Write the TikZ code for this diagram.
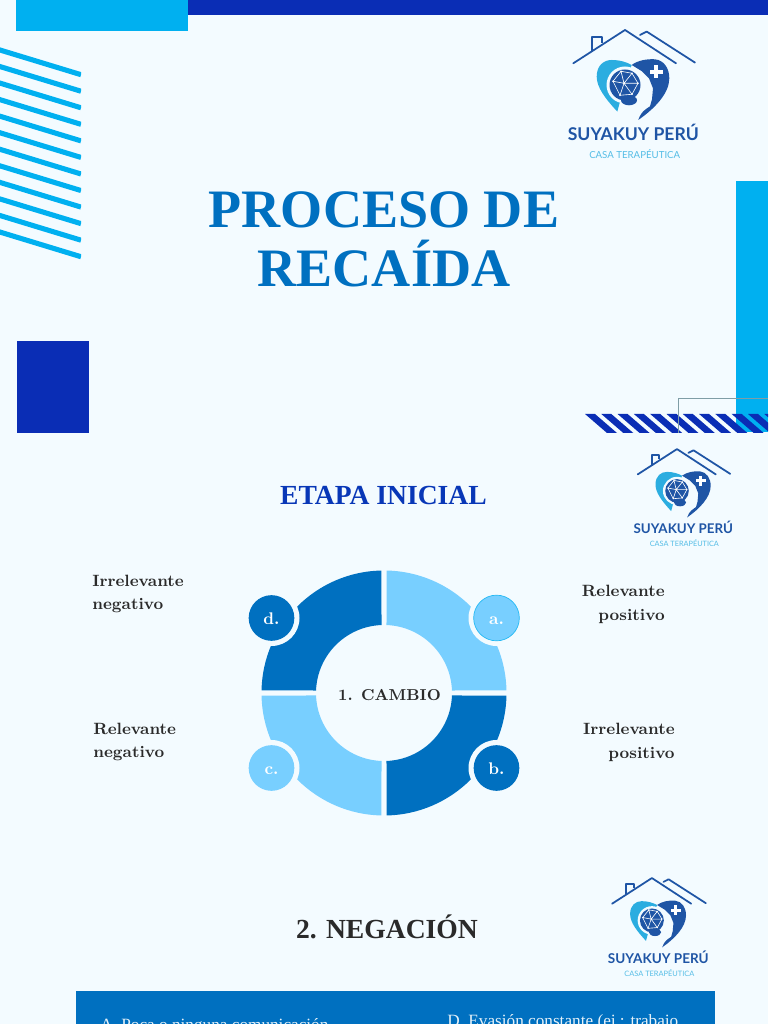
\documentclass[tikz,border=0pt]{standalone}
\usepackage{fontspec}
\usepackage{tikz}
\newfontfamily\titlefont{Liberation Serif}
\newfontfamily\logofont{Lato}
\newcommand{\heavybold}{\bfseries\addfontfeature{FakeBold=0.6}}
\definecolor{pagebg}{HTML}{F3FBFF}
\definecolor{skyblue}{HTML}{00B0F0}
\definecolor{royal}{HTML}{0A2DB5}
\definecolor{midblue}{HTML}{0070C0}
\definecolor{paleblue}{HTML}{78CFFF}
\definecolor{logoblue}{HTML}{1F55A5}
\definecolor{heartblue}{HTML}{2BADE0}
\definecolor{inktext}{HTML}{2A2A2A}
\definecolor{thinline}{HTML}{7F9DA6}
\tikzset{
  titletext/.style={font=\titlefont\bfseries\fontsize{30.8}{36}\selectfont, text=midblue, inner sep=0},
  headtext/.style={font=\titlefont\bfseries\fontsize{15.7}{18}\selectfont, inner sep=0},
  sidetext/.style={font=\fontsize{9.3}{13.6}\selectfont\heavybold, text=inktext, inner sep=0},
  badge/.style={circle, minimum size=26pt, inner sep=0, text=white, text height=7pt, text depth=0pt, font=\fontsize{9.6}{12}\selectfont\heavybold},
  bandtext/.style={font=\titlefont\fontsize{9.8}{12}\selectfont, text=white!90!midblue, inner sep=0, anchor=base west},
  logo/.pic={
    \draw[logoblue, line width=1pt, line cap=round, line join=round] (-61.7,10) -- (-10,43.3) -- (41,10);
    \draw[logoblue, line width=1pt, line cap=round, line join=round] (5,38.3) -- (11.7,41.7) -- (60,10.7);
    \draw[logoblue, line width=1pt, line join=round] (-43.3,21.7) -- (-43.3,36) -- (-33.3,36) -- (-33.3,30);
    \fill[heartblue] (-17.7,-38.3) .. controls (-30,-25) and (-38.3,-14) .. (-38.3,-3.3)
      .. controls (-38.3,8) and (-31,13.3) .. (-23.3,13.3)
      .. controls (-15,13.3) and (-8,11) .. (-3.3,8.3)
      -- (-10,-10) -- cycle;
    \fill[logoblue] (-3.3,8.3) .. controls (3,13) and (12,14.5) .. (20,14)
      .. controls (29,13) and (34.3,5) .. (34.3,-5)
      .. controls (34.3,-20) and (20,-35) .. (3.3,-46.7)
      .. controls (6,-38) and (12,-35) .. (15,-33)
      -- (17,-26) -- (18,-15) -- (14,-5) -- (7,2) -- cycle;
    \fill[pagebg] (-10,-11.7) circle (18.5);
    \fill[pagebg] (-12,-38) -- (3,-41) -- (15,-32) -- (6,-15) -- (-12,-15) -- cycle;
    \fill[logoblue] (-10,-11.7) circle (15.5);
    \fill[logoblue] (-6,-27) ellipse (8 and 5);
    \draw[white, line width=0.35pt] (-22,-8) -- (-14,2) -- (-3,0) -- (3,-10) -- (-3,-21) -- (-15,-22) -- cycle
      (-14,2) -- (-11,-10) -- (-3,0) (-22,-8) -- (-11,-10) -- (3,-10) (-15,-22) -- (-11,-10) -- (-3,-21);
    \foreach \dx/\dy in {-22/-8, -14/2, -3/0, 3/-10, -3/-21, -15/-22, -11/-10}
      \fill[white] (\dx,\dy) circle (0.9);
    \fill[white] (14.5,-0.3) rectangle (27.5,3.7);
    \fill[white] (19,-4.8) rectangle (23,8.2);
    \node[font=\logofont\bfseries\fontsize{10}{12}\selectfont, text=logoblue, inner sep=0, transform shape] (brand) at (-1.7,-59.2) {SUYAKUY PERÚ};
    \node[font=\logofont\fontsize{5.5}{6}\selectfont, text=heartblue!80!white, inner sep=0, transform shape] (sub) at (-0.3,-80.7) {CASA TERAPÉUTICA};
  }
}
\begin{document}
\begin{tikzpicture}[x=0.02cm, y=0.02cm]
\useasboundingbox (0,0) rectangle (768,1024);
\fill[pagebg] (0,0) rectangle (768,1024);
\fill[royal] (188,1009) rectangle (768,1024);
\fill[skyblue] (16,993) rectangle (188,1024);
\begin{scope}
  \clip (0,740) rectangle (81,1000);
  \foreach \i in {0,...,11}
    \draw[skyblue, line width=2.9pt] (-5,{975.5-16.55*\i}) -- (81,{949.3-16.55*\i});
\end{scope}
\fill[skyblue] (736,592) rectangle (768,843);
\fill[royal] (17,591) rectangle (89,683);
\begin{scope}
  \clip (585,591) rectangle (768,610);
  \foreach \i in {0,...,11}
    \fill[royal] ({585+16.3*\i},610) -- ({595+16.3*\i},610) -- ({617+16.3*\i},591) -- ({607+16.3*\i},591) -- cycle;
\end{scope}
\draw[thinline, line width=0.7pt] (768,625.3) -- (678.3,625.3) -- (678.3,591.3);
\pic (logoa) at (635,950.7) {logo};
\pic[scale=0.76] (logob) at (684.6,542) {logo};
\pic[scale=0.77] (logoc) at (659.6,112.6) {logo};
\node[titletext] (titlea) at (384,814) {PROCESO DE};
\node[titletext] (titleb) at (384,760) {RECAÍDA};
\node[headtext, text=royal!85!midblue] (etapa) at (383.5,528) {ETAPA INICIAL};
\node[headtext, text=inktext] (negacion) at (387,97) {2. NEGACIÓN};
\begin{scope}[shift={(384,331)}]
  \foreach \ang/\col in {0/paleblue, 90/midblue, 180/paleblue, 270/midblue}
    \fill[\col, rotate=\ang] (1.2:122.5) arc (1.2:88.8:122.5) -- (87.9:68) arc (87.9:2.1:68) -- cycle;
  \foreach \px/\py in {112.5/75, -112.5/75, 112.5/-75, -112.5/-75}
    \fill[pagebg] (\px,\py) circle (28);
  \node[font=\fontsize{9}{12}\selectfont\heavybold, text=inktext, inner sep=0] (cambio) at (5.5,-2) {1. CAMBIO};
  \node[badge, fill=paleblue, draw=skyblue!70!paleblue, line width=0.4pt] (a) at (112.5,75) {a.};
  \node[badge, fill=midblue] (b) at (112.5,-75) {b.};
  \node[badge, fill=paleblue] (c) at (-112.5,-75) {c.};
  \node[badge, fill=midblue] (d) at (-112.5,75) {d.};
\end{scope}
\node[sidetext, align=left, anchor=west] (irrneg) at (92,430) {Irrelevante\\negativo};
\node[sidetext, align=left, anchor=west] (relneg) at (93,282) {Relevante\\negativo};
\node[sidetext, align=right, anchor=east] (relpos) at (665,419.5) {Relevante\\positivo};
\node[sidetext, align=right, anchor=east] (irrpos) at (675,281.5) {Irrelevante\\positivo};
\fill[midblue] (76,0) rectangle (715,33);
\begin{scope}
  \clip (0,0) rectangle (768,1024);
  \node[bandtext] (banda) at (100,-7) {A. Poca o ninguna comunicación};
  \node[bandtext] (bandd) at (447,-3) {D. Evasión constante (ej.: trabajo};
\end{scope}
\end{tikzpicture}
\end{document}
